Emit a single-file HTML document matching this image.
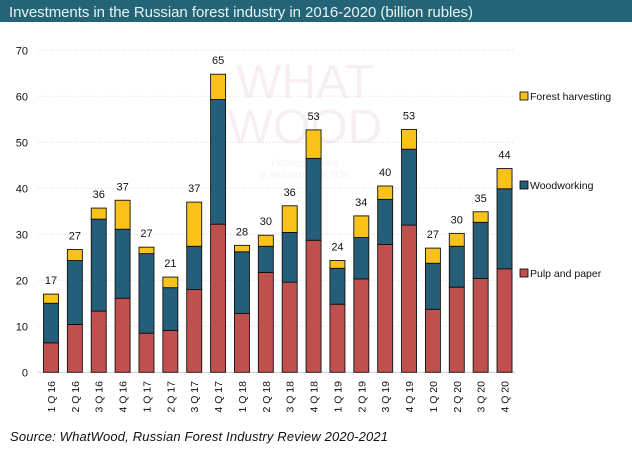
<!DOCTYPE html>
<html><head><meta charset="utf-8"><style>
body{margin:0;background:#fff;width:632px;height:451px;overflow:hidden;font-family:"Liberation Sans",sans-serif}
</style></head><body>
<svg width="632" height="451" xmlns="http://www.w3.org/2000/svg">
<rect x="0" y="0" width="632" height="22" fill="#236477"/>
<text x="9" y="17" fill="#e8f4f4" font-size="15" font-family="Liberation Sans Narrow, Liberation Sans, sans-serif" textLength="464">Investments in the Russian forest industry in 2016-2020 (billion rubles)</text>
<g opacity="0.08" fill="#b05050">
<text x="305" y="98" font-size="48" text-anchor="middle" font-family="Liberation Sans Narrow, sans-serif">WHAT</text>
<text x="305" y="143" font-size="48" text-anchor="middle" font-family="Liberation Sans Narrow, sans-serif">WOOD</text>
<text x="305" y="166" font-size="10" text-anchor="middle" font-family="Liberation Sans, DejaVu Sans, sans-serif">Исследования</text>
<text x="305" y="178" font-size="10" text-anchor="middle" font-family="Liberation Sans, DejaVu Sans, sans-serif">и аналитика в ЛПК</text>
</g>
<g id="grid"></g><g id="bars"></g><g id="labels"></g>
<g font-size="10.5" fill="#111">
<rect x="520" y="92" width="8" height="8" fill="#f8c21a" stroke="#000" stroke-width="0.8"/>
<text x="530" y="100">Forest harvesting</text>
<rect x="520" y="181" width="8" height="8" fill="#255e79" stroke="#000" stroke-width="0.8"/>
<text x="530" y="189">Woodworking</text>
<rect x="520" y="269" width="8" height="8" fill="#c0504d" stroke="#000" stroke-width="0.8"/>
<text x="530" y="277">Pulp and paper</text>
</g>
<text x="10" y="441" font-size="13" font-style="italic" fill="#111" font-family="Liberation Sans Narrow, Liberation Sans, sans-serif" textLength="378">Source: WhatWood, Russian Forest Industry Review 2020-2021</text>
</svg>
<script>
const categories=["1 Q 16","2 Q 16","3 Q 16","4 Q 16","1 Q 17","2 Q 17","3 Q 17","4 Q 17","1 Q 18","2 Q 18","3 Q 18","4 Q 18","1 Q 19","2 Q 19","3 Q 19","4 Q 19","1 Q 20","2 Q 20","3 Q 20","4 Q 20"];
const pulp=[6.4,10.4,13.3,16.1,8.5,9.1,18.0,32.2,12.8,21.7,19.6,28.7,14.8,20.3,27.8,32.0,13.7,18.5,20.4,22.5];
const wood=[8.6,13.9,20.0,15.0,17.3,9.3,9.4,27.1,13.4,5.7,10.8,17.8,7.8,9.0,9.8,16.5,10.0,8.9,12.2,17.4];
const harvest=[2.0,2.4,2.4,6.3,1.4,2.3,9.6,5.5,1.4,2.4,5.8,6.2,1.7,4.7,2.9,4.3,3.3,2.8,2.3,4.4];
const totals=["17","27","36","37","27","21","37","65","28","30","36","53","24","34","40","53","27","30","35","44"];
const yTicks=[0,10,20,30,40,50,60,70];
const NS="http://www.w3.org/2000/svg";
const y0=372.3,yTop=50.3,yMax=70;
function y(v){return y0-(v/yMax)*(y0-yTop);}
function xc(i){return 51+i*23.87;}
function mk(t,a,p){const e=document.createElementNS(NS,t);for(const k in a)e.setAttribute(k,a[k]);p.appendChild(e);return e;}
const g=document.getElementById('grid'),b=document.getElementById('bars'),l=document.getElementById('labels');
yTicks.forEach(t=>{
  const ln=mk('line',{x1:38,x2:515,y1:y(t),y2:y(t),stroke:t===0?'#ccc':'#d8d8d8','stroke-dasharray':t===0?'':'1,2','stroke-width':1},g);
  
  
  const tx=mk('text',{x:28,y:y(t)+4,'text-anchor':'end','font-size':11,fill:'#111'},g);
  tx.textContent=t;
  
  
});
const series=[[pulp,'#c0504d','pulp'],[wood,'#255e79','wood'],[harvest,'#f8c21a','harvest']];
categories.forEach((c,i)=>{
  let base=0;
  series.forEach(([arr,col,nm])=>{
    const v=arr[i];
    const r=mk('rect',{x:xc(i)-7.5,y:y(base+v),width:15,height:y(base)-y(base+v),fill:col,stroke:'#111','stroke-width':0.9},b);
    
    
    base+=v;
  });
  const tl=mk('text',{x:xc(i),y:y(base)-10,'text-anchor':'middle','font-size':11,fill:'#111'},l);
  tl.textContent=totals[i];
  
  
  const xl=mk('text',{x:0,y:0,'text-anchor':'end','font-size':10.5,fill:'#111',transform:'translate('+(xc(i)+4)+',381) rotate(-90)'},l);
  xl.textContent=c;
  
  
});
</script>
</body></html>
